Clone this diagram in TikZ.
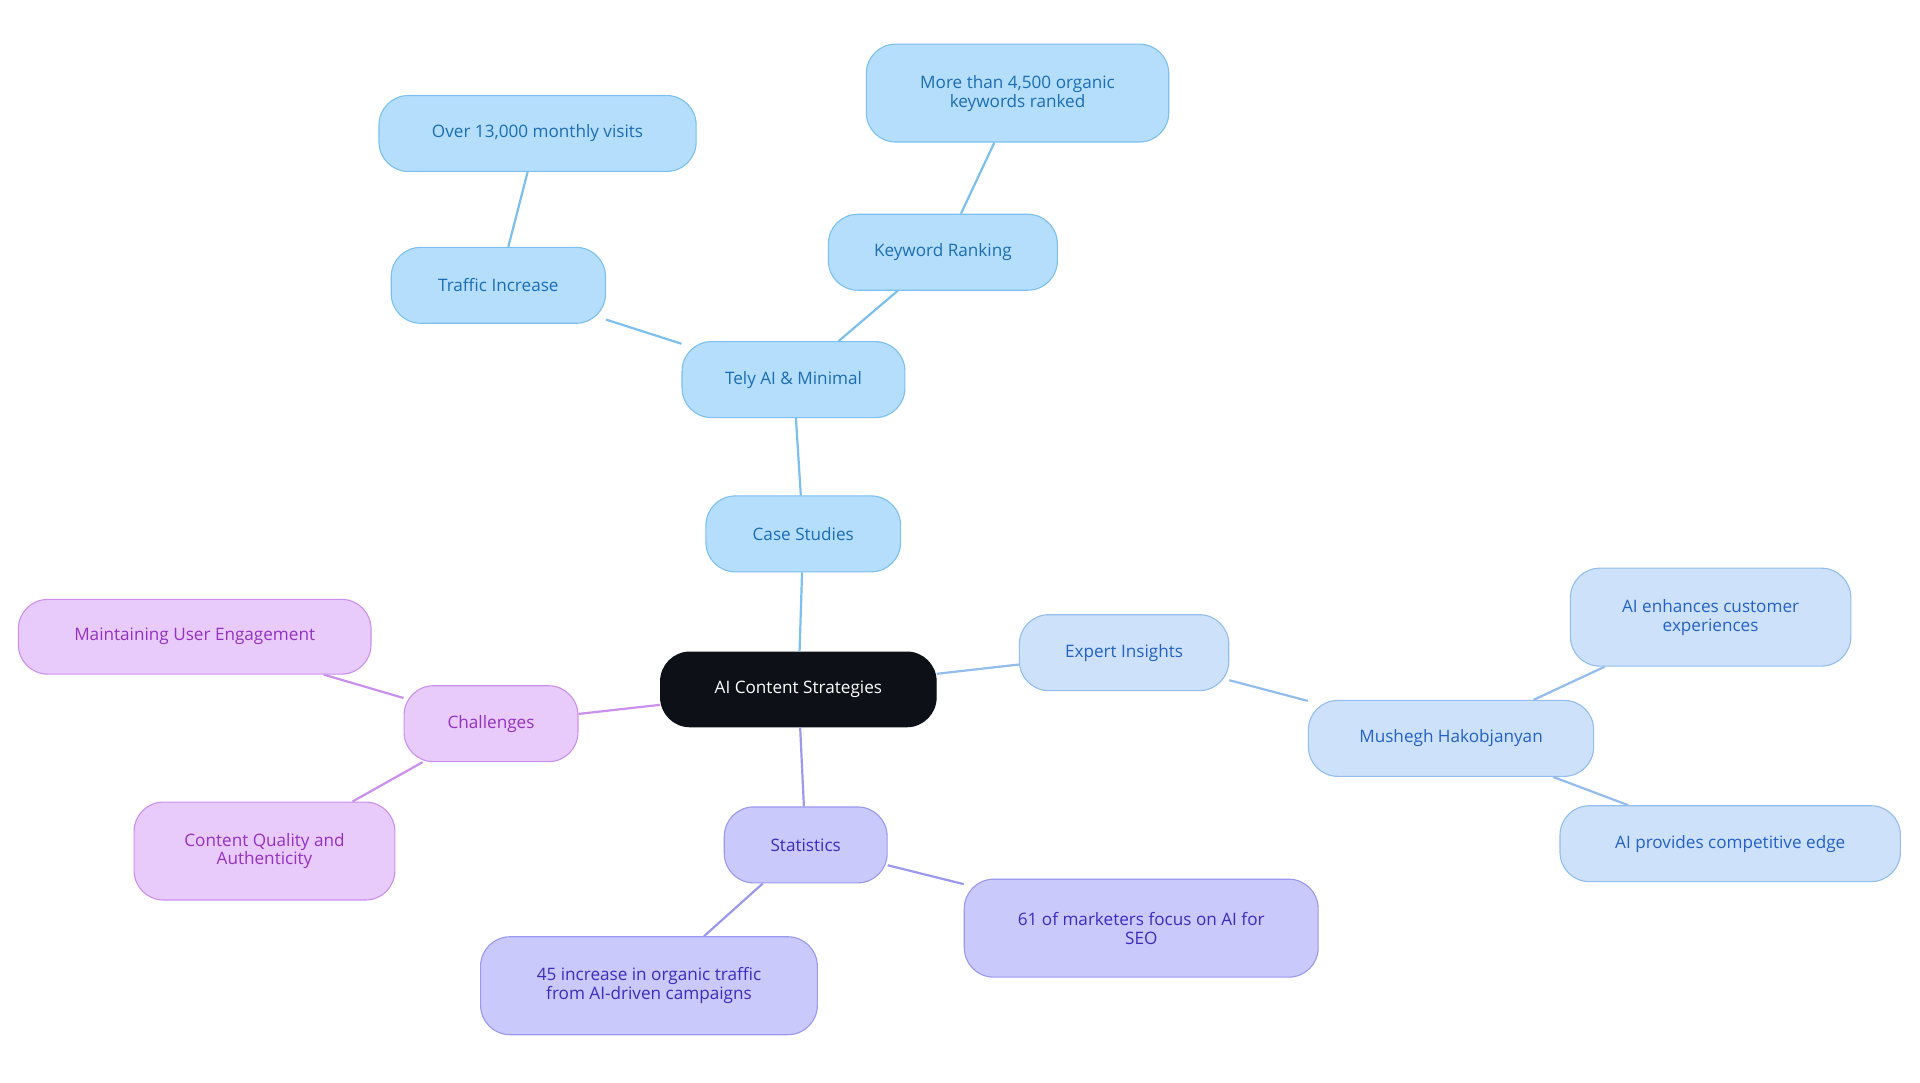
\documentclass[tikz,border=0pt]{standalone}
\usepackage{fontspec}
\setmainfont{Open Sans}
\definecolor{bF}{HTML}{B5DEFD}\definecolor{bS}{HTML}{7CC0F0}\definecolor{bT}{HTML}{1B6DB5}
\definecolor{eF}{HTML}{CDE2FA}\definecolor{eS}{HTML}{92BDEC}\definecolor{eT}{HTML}{2461C6}
\definecolor{pF}{HTML}{E8CBFB}\definecolor{pS}{HTML}{CB90EE}\definecolor{pT}{HTML}{9530C4}
\definecolor{sF}{HTML}{C9C9FC}\definecolor{sS}{HTML}{9A98EF}\definecolor{sT}{HTML}{3A2DBE}
\definecolor{root}{HTML}{0D1117}
\tikzset{
 box/.style n args={5}{draw=#2,fill=#1,text=#3,rounded corners=24pt,line width=0.9pt,
   minimum width=#4,minimum height=#5,align=center,inner sep=0pt,font=\fontsize{14}{15.5}\selectfont},
 bb/.style 2 args={box={bF}{bS}{bT}{#1}{#2}},
 ee/.style 2 args={box={eF}{eS}{eT}{#1}{#2}},
 pp/.style 2 args={box={pF}{pS}{pT}{#1}{#2}},
 ss/.style 2 args={box={sF}{sS}{sT}{#1}{#2}},
 ln/.style={line width=1.8pt,draw=#1}
}
\begin{document}
\begin{tikzpicture}[x=1pt,y=-1pt]
\useasboundingbox (0,0) rectangle (1568,884);
\node[box={root}{root}{white}{225pt}{61pt}] (r) at (652,563) {AI Content Strategies};
\node[bb={159pt}{62pt}] (cs) at (656,436) {Case Studies};
\node[bb={182pt}{62pt}] (tely) at (648,310) {Tely AI \& Minimal};
\node[bb={175pt}{62pt}] (ti) at (407,233) {Traffic Increase};
\node[bb={259pt}{62pt}] (ov) at (439,109) {Over 13,000 monthly visits};
\node[bb={187pt}{62pt}] (kr) at (770,206) {Keyword Ranking};
\node[bb={247pt}{80pt}] (mt) at (831,76) {More than 4,500 organic\\keywords ranked};
\node[ee={171pt}{62pt}] (ei) at (918,533) {Expert Insights};
\node[ee={233pt}{62pt}] (mh) at (1185,603) {Mushegh Hakobjanyan};
\node[ee={229pt}{80pt}] (ae) at (1397,504) {AI enhances customer\\experiences};
\node[ee={278pt}{62pt}] (ap) at (1413,689) {AI provides competitive edge};
\node[pp={142pt}{62pt}] (ch) at (401,591) {Challenges};
\node[pp={288pt}{61pt}] (mu) at (159,520) {Maintaining User Engagement};
\node[pp={213pt}{80pt}] (cq) at (216,695) {Content Quality and\\Authenticity};
\node[ss={133pt}{62pt}] (st) at (658,690) {Statistics};
\node[ss={289pt}{80pt}] (sm) at (932,758) {61 of marketers focus on AI for\\SEO};
\node[ss={275pt}{80pt}] (so) at (530,805) {45 increase in organic traffic\\from AI-driven campaigns};
\begin{scope}[on background layer/.try]
\end{scope}
\draw[ln=bS] (r) -- (cs); \draw[ln=bS] (cs) -- (tely); \draw[ln=bS] (tely) -- (ti);
\draw[ln=bS] (ti) -- (ov); \draw[ln=bS] (tely) -- (kr); \draw[ln=bS] (kr) -- (mt);
\draw[ln=eS] (r) -- (ei); \draw[ln=eS] (ei) -- (mh); \draw[ln=eS] (mh) -- (ae); \draw[ln=eS] (mh) -- (ap);
\draw[ln=pS] (r) -- (ch); \draw[ln=pS] (ch) -- (mu); \draw[ln=pS] (ch) -- (cq);
\draw[ln=sS] (r) -- (st); \draw[ln=sS] (st) -- (sm); \draw[ln=sS] (st) -- (so);
\end{tikzpicture}
\end{document}
